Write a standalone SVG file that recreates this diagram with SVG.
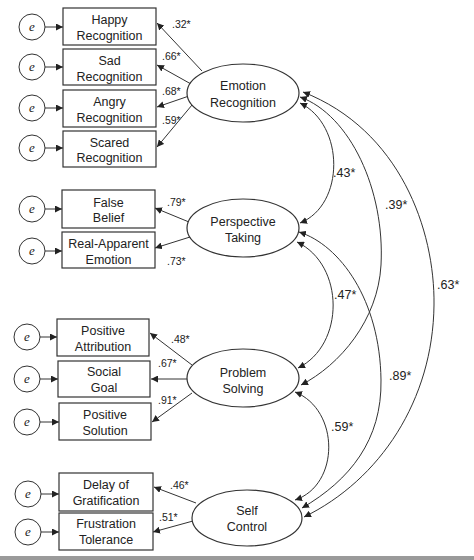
<svg xmlns="http://www.w3.org/2000/svg" width="474" height="560" viewBox="0 0 474 560">
<defs>
<style>
.box{fill:#fff;stroke:#333;stroke-width:1.2}
.lat{fill:#fff;stroke:#333;stroke-width:1.2}
.err{fill:#fff;stroke:#333;stroke-width:1}
.t{font-family:"Liberation Sans",Arial,sans-serif;font-size:12.5px;fill:#222;text-anchor:middle}
.e{font-family:"Liberation Serif","Times New Roman",serif;font-style:italic;font-size:13px;fill:#222;text-anchor:middle}
.ld{font-family:"Liberation Sans",Arial,sans-serif;font-size:10.5px;fill:#222}
.cv{font-family:"Liberation Sans",Arial,sans-serif;font-size:12.5px;fill:#222}
.ln{fill:none;stroke:#333;stroke-width:1;marker-end:url(#ah)}
.cc{fill:none;stroke:#333;stroke-width:1;marker-end:url(#ah);marker-start:url(#ah)}
</style>
<marker id="ah" viewBox="0 0 10 10" refX="10" refY="5" markerWidth="7" markerHeight="7" markerUnits="userSpaceOnUse" orient="auto-start-reverse">
<path d="M0,0 L10,5 L0,10 z" fill="#222"/>
</marker>
</defs>
<rect width="474" height="560" fill="#fff"/>
<rect x="0" y="556" width="474" height="4" fill="#9a9a9a"/>

<g id="connectors">
<line class="ln" x1="45" y1="27" x2="63" y2="27"/>
<line class="ln" x1="45" y1="67" x2="63" y2="67"/>
<line class="ln" x1="45" y1="108" x2="63" y2="108"/>
<line class="ln" x1="45" y1="148" x2="63" y2="148"/>
<line class="ln" x1="45" y1="209" x2="62" y2="209"/>
<line class="ln" x1="45" y1="251" x2="62" y2="251"/>
<line class="ln" x1="40" y1="337" x2="57" y2="337"/>
<line class="ln" x1="40" y1="379" x2="58" y2="379"/>
<line class="ln" x1="40" y1="422" x2="59" y2="422"/>
<line class="ln" x1="41" y1="494" x2="59" y2="494"/>
<line class="ln" x1="41" y1="532" x2="59" y2="532"/>
<line class="ln" x1="202" y1="71" x2="157" y2="23"/>
<line class="ln" x1="191" y1="84" x2="157" y2="65"/>
<line class="ln" x1="189" y1="96" x2="157" y2="107"/>
<line class="ln" x1="192" y1="105" x2="157" y2="147"/>
<line class="ln" x1="189" y1="222" x2="155" y2="208"/>
<line class="ln" x1="190" y1="237" x2="155" y2="248"/>
<line class="ln" x1="192" y1="365" x2="150" y2="333"/>
<line class="ln" x1="188" y1="379" x2="151" y2="379"/>
<line class="ln" x1="192" y1="393" x2="152" y2="422"/>
<line class="ln" x1="196" y1="503" x2="154" y2="487"/>
<line class="ln" x1="193" y1="521" x2="153" y2="532"/>
<path class="cc" d="M300,103 C345,125 345,205 300,223"/>
<path class="cc" d="M300,97 C350,115 385,190 381,265 C378,320 340,365 301,385"/>
<path class="cc" d="M303,92 C400,130 435,230 434,305 C433,400 380,480 304,517"/>
<path class="cc" d="M299,232 C340,245 380,300 381,380 C382,440 350,480 302,508"/>
<path class="cc" d="M297,242 C345,265 345,345 298,368"/>
<path class="cc" d="M295,392 C340,410 340,485 295,500"/>
<text class="ld" x="172" y="28">.32*</text>
<text class="ld" x="162" y="60">.66*</text>
<text class="ld" x="162" y="95">.68*</text>
<text class="ld" x="162" y="124">.59*</text>
<text class="ld" x="167" y="206">.79*</text>
<text class="ld" x="167" y="265">.73*</text>
<text class="ld" x="171" y="343">.48*</text>
<text class="ld" x="158" y="367">.67*</text>
<text class="ld" x="158" y="404">.91*</text>
<text class="ld" x="170" y="489">.46*</text>
<text class="ld" x="159" y="521">.51*</text>
<text class="cv" x="333" y="177">.43*</text>
<text class="cv" x="385" y="209">.39*</text>
<text class="cv" x="334" y="299">.47*</text>
<text class="cv" x="389" y="380">.89*</text>
<text class="cv" x="437" y="289">.63*</text>
<text class="cv" x="331" y="431">.59*</text>
</g>

<g id="e1"><circle class="err" cx="32" cy="27" r="13"/><text class="e" x="32" y="31">e</text></g>
<g id="e2"><circle class="err" cx="32" cy="67" r="13"/><text class="e" x="32" y="71">e</text></g>
<g id="e3"><circle class="err" cx="32" cy="108" r="13"/><text class="e" x="32" y="112">e</text></g>
<g id="e4"><circle class="err" cx="32" cy="148" r="13"/><text class="e" x="32" y="152">e</text></g>
<g id="e5"><circle class="err" cx="32" cy="209" r="13"/><text class="e" x="32" y="213">e</text></g>
<g id="e6"><circle class="err" cx="32" cy="251" r="13"/><text class="e" x="32" y="255">e</text></g>
<g id="e7"><circle class="err" cx="27" cy="337" r="13"/><text class="e" x="27" y="341">e</text></g>
<g id="e8"><circle class="err" cx="27" cy="379" r="13"/><text class="e" x="27" y="383">e</text></g>
<g id="e9"><circle class="err" cx="27" cy="422" r="13"/><text class="e" x="27" y="426">e</text></g>
<g id="e10"><circle class="err" cx="28" cy="494" r="13"/><text class="e" x="28" y="498">e</text></g>
<g id="e11"><circle class="err" cx="28" cy="532" r="13"/><text class="e" x="28" y="536">e</text></g>

<g id="happy"><rect class="box" x="63" y="8" width="93" height="37"/><text class="t" x="109.5" y="23.5">Happy</text><text class="t" x="109.5" y="39.5">Recognition</text></g>
<g id="sad"><rect class="box" x="63" y="49" width="93" height="36"/><text class="t" x="109.5" y="64.5">Sad</text><text class="t" x="109.5" y="80.5">Recognition</text></g>
<g id="angry"><rect class="box" x="63" y="90" width="93" height="37"/><text class="t" x="109.5" y="105.5">Angry</text><text class="t" x="109.5" y="121.5">Recognition</text></g>
<g id="scared"><rect class="box" x="63" y="131" width="93" height="36"/><text class="t" x="109.5" y="146.5">Scared</text><text class="t" x="109.5" y="161.5">Recognition</text></g>

<g id="falsebelief"><rect class="box" x="62" y="190" width="93" height="38"/><text class="t" x="108.5" y="206.5">False</text><text class="t" x="108.5" y="221.5">Belief</text></g>
<g id="realapparent"><rect class="box" x="62" y="232" width="93" height="36"/><text class="t" x="108.5" y="247.5">Real-Apparent</text><text class="t" x="108.5" y="263.5">Emotion</text></g>

<g id="posattr"><rect class="box" x="57" y="319" width="92" height="37"/><text class="t" x="103" y="334.5">Positive</text><text class="t" x="103" y="350.5">Attribution</text></g>
<g id="socialgoal"><rect class="box" x="58" y="361" width="92" height="36"/><text class="t" x="104" y="375.5">Social</text><text class="t" x="104" y="391.5">Goal</text></g>
<g id="possol"><rect class="box" x="59" y="403" width="92" height="37"/><text class="t" x="105" y="418.5">Positive</text><text class="t" x="105" y="434.5">Solution</text></g>

<g id="delay"><rect class="box" x="59" y="473" width="94" height="38"/><text class="t" x="106" y="488.5">Delay of</text><text class="t" x="106" y="505">Gratification</text></g>
<g id="frustration"><rect class="box" x="59" y="513" width="94" height="37"/><text class="t" x="106" y="527.5">Frustration</text><text class="t" x="106" y="543.5">Tolerance</text></g>

<g id="emotion"><ellipse class="lat" cx="243" cy="93" rx="56" ry="29"/><text class="t" x="243" y="89.5">Emotion</text><text class="t" x="243" y="106.5">Recognition</text></g>
<g id="perspective"><ellipse class="lat" cx="243" cy="228" rx="56" ry="29"/><text class="t" x="243" y="225.5">Perspective</text><text class="t" x="243" y="241.5">Taking</text></g>
<g id="problem"><ellipse class="lat" cx="243" cy="378" rx="56" ry="29"/><text class="t" x="243" y="376.5">Problem</text><text class="t" x="243" y="392.5">Solving</text></g>
<g id="selfcontrol"><ellipse class="lat" cx="247" cy="518" rx="55" ry="28"/><text class="t" x="247" y="514.5">Self</text><text class="t" x="247" y="531">Control</text></g>
</svg>
